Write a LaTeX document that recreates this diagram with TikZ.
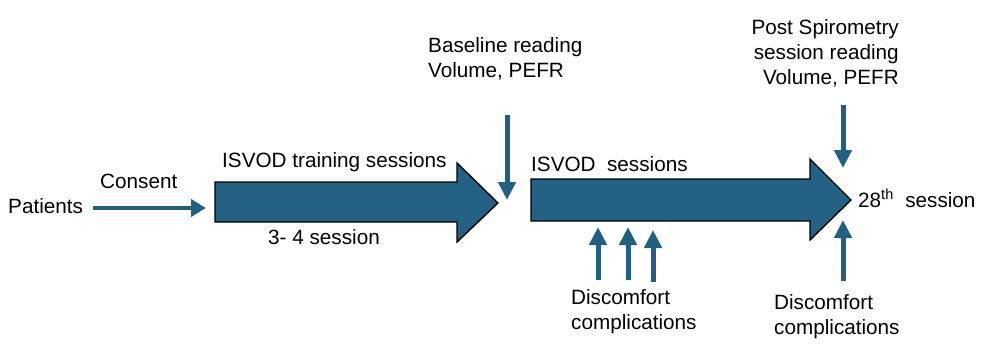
\documentclass[tikz,border=0pt]{standalone}
\usepackage{fontspec}
\setmainfont{Liberation Sans}
\usetikzlibrary{arrows.meta}
\definecolor{arrowblue}{RGB}{34,95,128}
\definecolor{bigblue}{RGB}{36,97,131}
\begin{document}
\begin{tikzpicture}[x=1pt,y=-1pt,
  lbl/.style={inner sep=0pt,font=\fontsize{20.7}{25}\selectfont},
  thinarrow/.style={draw=arrowblue,line width=4pt,-{Triangle[width=17pt,length=15pt]}},
  vertarrow/.style={draw=arrowblue,line width=5pt,-{Triangle[width=17pt,length=18pt]}},
  bigarrow/.style={fill=bigblue,draw=black,line width=1.4pt,line join=miter}]
\useasboundingbox (0,0) rectangle (986,356);
% texts
\node[lbl,anchor=base west] (patients) at (8,213) {Patients};
\node[lbl,anchor=base west] (consent) at (100,188) {Consent};
\node[lbl,anchor=base west] (training) at (222,167) {ISVOD training sessions};
\node[lbl,anchor=base west] (three) at (268,244) {3- 4 session};
\node[lbl,anchor=base west] (isvod) at (531,171) {ISVOD\ \ sessions};
\node[lbl,anchor=base west] (final) at (858,207) {28\textsuperscript{th}\ \ session};
\node[lbl,anchor=base west,align=left] (baseline) at (428,77) {Baseline reading\\Volume, PEFR};
\node[lbl,anchor=base east,align=right] (post) at (899,84) {Post Spirometry\\session reading\\Volume, PEFR};
\node[lbl,anchor=base west,align=left] (disc1) at (571,329) {Discomfort\\complications};
\node[lbl,anchor=base west,align=left] (disc2) at (774,334) {Discomfort\\complications};
% big arrows
\draw[bigarrow] (215,182) -- (457,182) -- (457,163) -- (498,203) -- (457,242) -- (457,222) -- (215,222) -- cycle;
\draw[bigarrow] (531,179) -- (810,179) -- (810,159) -- (851,200) -- (810,240) -- (810,221) -- (531,221) -- cycle;
% arrow end points
\coordinate (c1s) at (93,208);  \coordinate (c1e) at (206,208);
\coordinate (b1s) at (507,115); \coordinate (b1e) at (507,200);
\coordinate (p1s) at (843,105); \coordinate (p1e) at (843,168);
\coordinate (u1s) at (598,280); \coordinate (u1e) at (598,227);
\coordinate (u2s) at (628,280); \coordinate (u2e) at (628,227);
\coordinate (u3s) at (653,282); \coordinate (u3e) at (653,230);
\coordinate (u4s) at (843,281); \coordinate (u4e) at (843,220);
\draw[thinarrow] (c1s) -- (c1e);
\draw[vertarrow] (b1s) -- (b1e);
\draw[vertarrow] (p1s) -- (p1e);
\draw[vertarrow] (u1s) -- (u1e);
\draw[vertarrow] (u2s) -- (u2e);
\draw[vertarrow] (u3s) -- (u3e);
\draw[vertarrow] (u4s) -- (u4e);
\end{tikzpicture}
\end{document}
